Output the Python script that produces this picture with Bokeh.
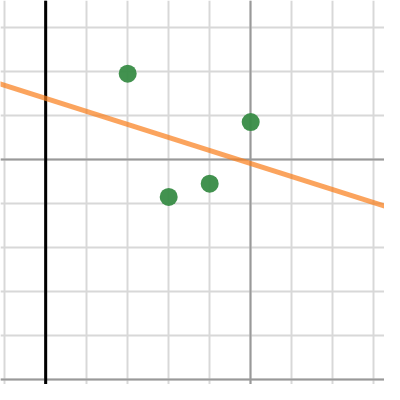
from bokeh.plotting import figure
from bokeh.models import Grid, SingleIntervalTicker, Span, Slope, Range1d
from bokeh.embed import file_html
from bokeh.resources import INLINE

# data
x_vals = [2, 3, 4, 5]
y_vals = [11.95, 9.15, 9.45, 10.85]

# best-fit line as drawn
fit_intercept = 11.39
fit_slope = -0.296

p = figure(width=384, height=384, output_backend="svg", toolbar_location=None,
           x_axis_type=None, y_axis_type=None, min_border=0,
           x_range=Range1d(-1.102, 8.263), y_range=Range1d(4.886, 13.614))
p.outline_line_color = None
p.background_fill_color = "white"

# minor grid every unit
for dim in (0, 1):
    g = Grid(dimension=dim, ticker=SingleIntervalTicker(interval=1))
    g.grid_line_color = "#d8d8d8"
    g.grid_line_width = 2
    p.add_layout(g)

# major grid every 5 units
for dim in (0, 1):
    g = Grid(dimension=dim, ticker=SingleIntervalTicker(interval=5))
    g.grid_line_color = "#999999"
    g.grid_line_width = 2
    p.add_layout(g)

# y axis
p.add_layout(Span(location=0, dimension="height", line_color="black", line_width=3))

# regression line
p.add_layout(Slope(gradient=fit_slope, y_intercept=fit_intercept,
                   line_color="#fa7e19", line_alpha=0.7, line_width=5))

p.scatter(x_vals, y_vals, size=18, fill_color="#388c46", line_color=None, fill_alpha=0.95)

open("out.html", "w").write(file_html(p, INLINE))
